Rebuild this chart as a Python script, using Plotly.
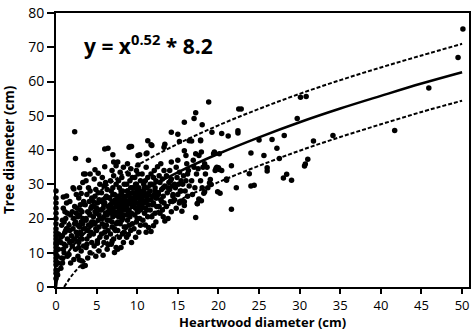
import plotly.graph_objects as go

# Scatter data: heartwood diameter (cm) vs tree diameter (cm)
heartwood = [
    0.0,0.0,0.0,0.0,0.0,0.0,0.0,0.0,0.0,0.0,0.0,0.0,0.0,0.0,0.0,0.0,0.0,0.0,0.0,0.0,0.0,0.0,0.2,0.3,0.2,0.3,0.25,0.15,
    0.6,0.8,0.7,1.0,0.9,1.2,0.6,1.4,0.8,1.1,1.3,0.7,1.0,1.2,1.4,0.9,1.3,0.9,1.3,1.4,1.0,0.6,1.2,0.8,1.1,
    1.8,2.2,1.6,2.4,2.0,1.7,2.3,1.9,2.5,2.1,1.6,2.4,2.2,1.8,2.0,2.3,1.7,2.5,2.2,2.1,2.4,2.3,2.0,1.7,2.3,2.5,
    3.3,3.2,2.9,2.7,3.1,3.4,2.8,3.2,2.6,3.0,3.4,2.7,3.1,3.3,2.9,3.2,2.6,3.0,3.4,2.8,3.1,2.9,3.3,3.4,2.8,3.1,3.3,2.7,3.0,2.9,
    3.6,3.9,4.2,3.7,4.4,3.8,4.1,4.3,3.6,4.0,4.4,3.7,4.2,3.9,4.3,3.6,4.1,4.4,3.8,4.2,4.0,3.7,3.6,4.2,4.0,3.9,3.7,4.1,4.4,4.3,3.8,
    4.9,5.3,4.7,5.1,5.4,4.6,5.0,5.3,4.8,5.2,4.6,5.0,5.4,4.7,5.1,5.3,4.8,5.2,4.9,5.4,4.7,5.2,4.8,4.9,4.6,5.3,5.0,4.6,5.4,4.8,5.1,
    5.8,6.3,5.9,6.2,5.6,6.4,6.0,5.7,6.3,5.9,6.1,5.6,6.4,6.0,5.8,6.2,5.6,6.3,5.9,6.1,5.7,6.0,6.0,6.4,6.2,5.7,6.4,5.9,6.1,6.3,5.8,5.6,6.0,6.4,
    7.2,7.4,6.8,7.1,6.7,7.3,6.9,7.4,6.6,7.0,7.3,6.8,7.2,6.6,7.0,7.4,6.7,7.1,6.9,7.3,6.6,7.2,6.8,7.0,7.4,6.7,7.1,6.9,7.4,7.1,7.0,6.9,7.2,6.7,7.3,7.0,6.8,7.4,6.6,7.2,6.9,
    7.6,8.0,8.3,7.8,8.2,7.6,8.4,7.9,8.1,7.7,8.3,8.0,7.6,8.4,7.8,8.2,7.9,8.3,7.7,8.1,8.4,7.6,8.0,8.2,7.8,8.4,7.7,8.1,7.9,8.3,7.6,8.2,7.9,8.4,7.7,8.0,8.3,7.8,8.1,7.6,8.4,
    9.3,8.7,8.9,9.2,8.6,9.4,8.8,9.1,8.7,9.3,8.9,9.0,8.6,9.4,8.8,9.2,8.7,9.1,9.3,8.6,9.0,9.4,8.8,9.2,8.7,9.1,9.4,8.9,9.2,8.8,9.0,9.1,9.3,9.0,8.7,9.3,8.9,9.4,8.6,9.2,8.8,9.0,
    9.8,10.2,9.6,10.4,9.9,10.3,9.7,10.1,10.4,9.8,10.2,9.6,10.0,10.4,9.7,10.1,9.9,10.3,9.6,10.0,10.2,9.8,10.4,9.7,10.1,9.9,10.1,10.1,10.3,10.0,10.4,9.7,10.2,9.9,9.6,10.3,9.8,10.0,
    11.1,11.4,11.0,10.7,11.3,10.9,11.2,10.6,11.4,11.0,10.8,11.3,10.6,11.1,10.9,11.4,10.7,11.2,10.8,11.0,11.3,10.6,11.1,11.1,11.2,11.3,11.0,10.7,11.4,10.9,11.2,10.8,
    11.7,12.0,12.3,11.8,12.2,11.6,12.4,12.0,11.7,12.3,11.9,12.1,12.4,11.6,12.2,11.8,12.3,12.0,11.7,12.1,12.5,11.8,11.7,11.9,12.4,12.2,11.6,
    13.4,13.2,12.8,13.1,12.7,13.3,12.9,13.2,12.6,13.0,13.4,12.8,13.1,12.7,13.3,12.9,13.3,13.4,13.0,12.6,13.2,
    13.8,14.2,13.6,14.1,14.4,13.7,14.0,14.3,13.9,14.2,13.6,14.0,14.2,14.2,14.4,13.8,14.1,
    15.5,14.8,15.2,14.6,15.0,15.3,14.7,15.1,15.4,14.9,15.2,14.8,15.0,15.0,15.2,15.4,14.6,
    15.8,15.8,15.6,16.2,15.9,16.4,16.0,15.7,16.3,16.1,16.0,15.8,16.4,15.8,15.6,16.2,
    17.2,17.4,17.4,17.6,16.8,17.1,16.7,17.3,17.0,16.9,17.2,16.7,17.0,17.2,17.5,
    17.9,17.6,18.2,18.3,18.0,17.8,18.4,18.1,17.6,17.9,17.8,17.8,18.0,18.3,
    18.8,18.6,19.0,18.9,19.1,18.7,19.4,19.2,19.5,19.7,19.8,20.1,19.6,20.4,20.0,20.2,19.9,20.1,20.4,21.2,
    21.0,21.0,21.6,21.6,22.2,22.4,22.4,22.5,22.8,23.8,24.0,24.0,24.4,25.0,25.6,26.0,26.0,26.6,27.2,27.5,
    28.1,28.4,28.0,29.0,29.7,30.1,30.8,30.6,30.7,31.0,31.7,34.1,41.7,45.9,49.5,50.1,
]
tree_diam = [
    2.5,4,5,6.5,7.5,8.5,9.5,10.5,11.5,12.5,13,14,15,16,17,18.5,20,21.5,23,24.5,26,28,3.5,11,13.5,15.5,7,9,
    5.5,7,8.5,10,11,12,13,14,15,16,17,18,19,20,21.5,23,24.5,26.3,26.6,9,12.5,14.5,16.5,19.5,22,
    7,8,9.5,11,12,13,14,15,16,17,18,19,20,21,22,23.5,25,27,28.6,29,37.5,45.3,13.5,16.5,18.5,21.5,
    6,7.6,7.9,9,10.5,12,13,14,15,16,17,18,19,20,21,22,23,24,25,26,27.3,29,30.5,33,11.5,15.5,18.5,20.5,22.5,17.5,
    6.3,8.5,10,11.5,13,14,15,16,17,18,19,20,21,22,23,24,25,26,27,28,29,31,33,33,37,16.5,19.5,21.5,23.5,18.5,12.5,
    9,10.5,12,13.5,14.5,15.5,16.5,17.5,18.5,19.5,20.5,21.5,22.5,23.5,24.5,25.5,26.5,27.5,28.5,30,31.5,33.2,34.2,17,19,21,23,25,20,22,12.8,
    9.3,11,13,14.5,15.5,16.5,17.5,18.5,19.5,20.5,21.5,22.5,23.5,24.5,25.5,26.5,27.5,28.5,29.5,30.5,32,35.1,40.3,40.5,18,20,22,24,26,21,23,25,16,12.3,
    10.1,11.5,12.5,14,15.5,16.5,17.5,18.5,19.5,20.5,21,21.5,22,22.5,23,23.5,24,24.5,25,25.5,26,27,28,29,30,31,32.5,34,35.4,36.5,38.6,19,21,23,25,27,22,24,26,17,13.2,
    11,11.5,13,14.5,15.5,16.5,17.5,18.5,19.5,20.5,21,21.5,22,22.5,23,23.5,24,24.5,25,25.5,26,26.5,27,28,29,30,31,32,33.5,35,36.5,20,22,24,26,28,23,25,27,19,16,
    13,14.5,15.3,16.5,17.5,18.5,19.5,20.5,21,21.5,22,22.5,23,23.5,24,24.5,25,25.5,26,26.5,27,27.5,28,29,30,31,32,33,34.5,36,40.8,41,41,21,23,25,27,29,24,26,28,18,
    14.5,16,17,18,19,20,21,22,22.5,23,23.5,24,24.5,25,25.5,26,26.5,27,27.5,28,29,30,31,32,33,34,35.6,38.4,38.6,22,24,26,28,30,25,27,29,20,
    16,17.4,18.1,19.5,20.5,21.5,22.5,23.5,24,24.5,25,25.5,26,26.5,27,27.5,28,29,30,31,32,33,35,38.9,39.1,42.7,23,25,27,29,26,28,
    16.2,17.9,19,20.5,21.5,22.5,23.5,24.5,25.5,26,26.5,27,27.5,28,29,30,31,32,33,34,35.1,41.3,41.5,24,26,28,30,
    19.3,20.5,21.5,22.5,23.5,24.5,25.5,26.5,27.5,28.5,29.5,30.5,31.5,32.5,34,36,40.8,41.7,25,27,29,
    20,22,23.5,25,26.5,27.5,28.5,29.5,30.5,31.5,32.5,34,36.5,45.2,27,29,31,
    22.1,23,24.5,25.5,27,28,29,30,31,32,33.5,35,37,44.6,42.5,28,30,
    23.8,24.9,25.2,26.5,28,29.5,31,32.5,34,36,38.4,39.8,42.7,48.1,30,33,
    20.3,24.3,24.4,25.7,27,29,31,33,35,37,38.9,42.6,49.2,50.9,34.5,
    25.2,25.5,27.4,27.8,29,31,33,35,38.4,39.4,42.7,42.9,47.4,36,
    54.0,35.0,31.4,30.4,29.9,29.0,38.9,45.2,39.4,34.6,35.0,34.3,34.0,34.0,34.8,27.4,27.8,38.9,44.8,44.1,
    31.5,31.2,35.4,22.7,29.0,45.6,45.0,52.0,52.0,33.1,39.1,29.5,29.7,42.9,38.4,33.9,34.8,43.1,40.5,37.5,
    44.2,32.9,31.8,31.2,49.2,55.4,55.6,35.3,35.9,37.3,42.6,44.2,45.7,58.1,67.0,75.3,
]

# Fitted curve y = x^0.52 * 8.2 and its dashed bounds
fit_x = [0, 0.25, 0.5, 1, 2, 3, 5, 7.5, 10, 15, 20, 25, 30, 35, 40, 45, 50]
fit_y = [0, 4.0, 5.7, 8.2, 11.8, 14.5, 18.9, 23.4, 27.2, 33.5, 38.9, 43.7, 48.1, 52.1, 55.8, 59.4, 62.7]
upper_y = [8.3, 12.3, 14.0, 16.5, 20.1, 22.8, 27.2, 31.7, 35.5, 41.8, 47.2, 52.0, 56.4, 60.4, 64.1, 67.6, 71.0]
lower_x = [1.0, 2, 3, 5, 7.5, 10, 15, 20, 25, 30, 35, 40, 45, 50]
lower_y = [0.0, 3.5, 6.2, 10.6, 15.1, 18.9, 25.2, 30.6, 35.4, 39.8, 43.8, 47.5, 51.1, 54.4]

x_ticks = [0, 5, 10, 15, 20, 25, 30, 35, 40, 45, 50]
y_ticks = [0, 10, 20, 30, 40, 50, 60, 70, 80]

fig = go.Figure()
fig.add_trace(go.Scatter(x=heartwood, y=tree_diam, mode="markers",
                         marker=dict(color="black", size=5.5), cliponaxis=False))
fig.add_trace(go.Scatter(x=fit_x, y=upper_y, mode="lines", line=dict(color="black", width=2, dash="4px,2px", shape="spline")))
fig.add_trace(go.Scatter(x=lower_x, y=lower_y, mode="lines", line=dict(color="black", width=2, dash="4px,2px", shape="spline")))
fig.add_trace(go.Scatter(x=fit_x, y=fit_y, mode="lines", line=dict(color="black", width=2.5, shape="spline")))

tick_font = dict(family="Open Sans", size=14, color="black")
fig.update_layout(
    width=474, height=332,
    margin=dict(l=56, r=3, t=6, b=45),
    plot_bgcolor="white", paper_bgcolor="white",
    showlegend=False,
    xaxis=dict(range=[0, 50.85], tickvals=x_ticks, showgrid=False, zeroline=False,
               showline=True, linecolor="black", linewidth=2, mirror=True,
               ticks="outside", ticklen=5, tickwidth=2, tickcolor="black",
               tickfont=dict(family="Open Sans", size=13, color="black"),
               ticklabeloverflow="allow"),
    yaxis=dict(range=[0, 80], tickvals=y_ticks, showgrid=False, zeroline=False,
               showline=True, linecolor="black", linewidth=2, mirror=True,
               ticks="outside", ticklen=7, tickwidth=2, tickcolor="black",
               tickfont=tick_font, ticklabeloverflow="allow"),
    annotations=[
        dict(text="<b>Heartwood diameter (cm)</b>", xref="paper", yref="paper",
             x=0.5, y=0, yshift=-45, xanchor="center", yanchor="bottom", showarrow=False,
             borderpad=0, font=dict(family="Open Sans", size=13, color="black")),
        dict(text="<b>Tree diameter (cm)</b>", xref="paper", yref="paper",
             x=0, y=0.5, xshift=-47, xanchor="center", yanchor="middle", textangle=-90,
             showarrow=False, font=dict(family="Open Sans", size=13.5, color="black")),
        dict(text="<b>y = x<sup>0.52</sup> * 8.2</b>", xref="paper", yref="paper",
             x=0, y=1, xshift=26, yshift=-31, xanchor="left", yanchor="middle",
             showarrow=False, font=dict(family="Open Sans", size=21, color="black")),
    ],
)
fig.write_html("out.html")
